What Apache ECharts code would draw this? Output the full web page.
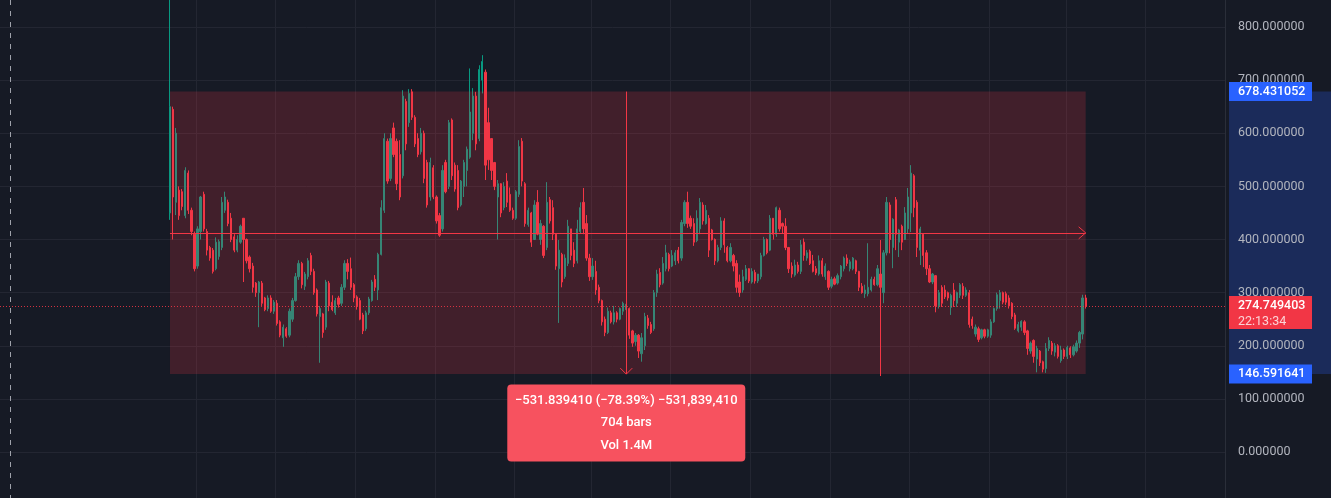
<!DOCTYPE html>
<html>
<head>
<meta charset="utf-8">
<script src="https://cdn.jsdelivr.net/npm/echarts@6/dist/echarts.min.js"></script>
<style>
html,body{margin:0;padding:0;background:#161a25;overflow:hidden;}
#c{width:1331px;height:498px;}
</style>
</head>
<body>
<div id="c"></div>
<script>
// ---- data (price, one bar per slot) ----
const opens = [
450,645,470,493,490,445,525,455,410,350,
415,485,415,385,380,345,368,385,455,470,
440,405,380,395,440,400,367,350,318,300,
318,290,270,290,265,280,245,215,232,220,
250,285,330,355,312,330,370,340,305,255,
260,235,318,282,262,290,280,310,355,345,
315,292,285,258,232,262,285,325,305,372,
455,585,515,610,585,560,520,660,620,678,
630,590,565,600,545,480,535,480,445,420,
545,500,625,540,530,465,500,530,555,600,
670,590,700,715,620,590,545,480,505,460,
510,485,455,440,485,585,505,428,450,400,
470,400,425,385,475,460,410,345,372,330,
355,420,380,360,415,470,430,365,330,340,
310,285,250,225,262,245,262,250,265,268,
270,228,208,220,185,200,252,240,232,300,
338,318,345,372,350,360,380,365,430,470,
440,430,398,420,465,430,440,418,400,360,
385,435,385,360,370,355,320,305,325,345,
320,338,322,330,370,400,380,440,410,455,
430,425,385,350,333,352,340,395,365,378,
360,345,335,360,330,340,312,326,318,330,
345,365,345,345,360,340,312,298,298,305,
325,315,335,300,375,465,385,475,395,425,
400,420,450,520,470,380,410,375,345,320,
332,275,310,305,300,272,305,280,295,312,
295,300,250,222,232,215,230,218,220,245,
270,285,300,298,290,280,258,228,235,245,
228,190,210,175,190,170,157,195,205,188,
200,172,192,180,196,183,190,205,222,290
];
const closes = [
650,480,600,445,462,530,455,415,345,420,
480,420,380,365,340,395,396,470,480,430,
400,380,400,425,400,360,345,310,300,320,
280,268,290,265,282,242,220,235,218,265,
285,330,355,315,335,360,340,300,260,270,
225,320,275,268,285,278,310,355,340,310,
290,275,250,228,262,288,320,310,372,460,
590,510,590,560,505,480,670,580,675,630,
580,560,600,515,465,545,480,435,408,530,
490,620,520,495,460,510,545,570,640,670,
580,720,735,540,550,530,500,505,450,500,
470,455,440,490,575,510,430,455,395,465,
410,430,370,470,435,410,350,380,320,365,
425,370,355,420,460,420,365,330,350,305,
285,245,225,265,245,262,250,270,280,278,
220,205,220,190,215,255,238,225,300,335,
315,355,375,345,370,375,360,432,470,430,
425,395,440,470,435,455,380,400,360,385,
435,390,360,385,350,310,300,330,345,322,
340,322,335,370,400,375,440,410,460,420,
425,385,345,335,352,340,390,370,375,355,
340,337,360,335,350,310,325,316,332,350,
365,355,358,365,340,310,300,305,310,325,
315,345,310,375,470,400,438,410,418,395,
450,480,525,460,385,420,370,345,320,335,
275,300,280,292,290,295,285,300,315,295,
305,240,238,235,212,230,218,230,245,270,
296,300,282,282,275,255,233,240,246,225,
195,205,180,195,168,156,195,210,190,200,
180,192,180,197,183,198,205,225,290,274.749403
];
const highs = [
900,650,610,500,495,536,530,460,415,425,
482,490,420,388,384,404,400,480,490,475,
450,410,408,428,440,402,370,356,320,322,
322,292,295,295,286,286,248,240,235,270,
290,337,361,358,339,365,375,345,308,275,
262,324,322,295,290,294,316,361,363,366,
318,295,290,262,266,292,324,333,375,474,
600,590,600,620,590,587,681,665,683,683,
634,600,610,605,550,554,540,483,450,540,
550,625,628,545,540,512,550,575,722,685,
678,728,747,720,648,591,546,512,506,508,
525,498,460,493,587,591,508,460,452,474,
493,437,427,508,480,474,412,399,375,372,
437,420,395,437,470,497,446,373,365,360,
315,287,255,272,266,275,265,272,283,281,
272,230,224,222,224,262,258,245,305,343,
346,367,390,375,380,380,386,437,474,490,
445,440,455,478,470,465,446,420,402,390,
442,440,388,393,373,361,334,343,352,346,
346,343,335,375,405,402,446,440,462,460,
432,440,386,357,362,358,399,402,380,381,
371,350,370,365,355,342,330,330,336,352,
368,372,362,367,362,341,318,315,393,330,
330,352,399,380,480,470,440,480,420,428,
461,497,540,523,474,424,412,380,352,337,
333,305,314,314,302,298,318,302,318,318,
310,305,255,240,236,232,232,232,250,272,
300,305,302,302,295,282,262,245,248,248,
230,208,212,200,192,172,205,216,209,205,
203,200,195,200,199,202,210,228,296,296
];
const lows = [
437,400,446,437,455,440,448,408,340,345,
400,415,370,360,336,342,362,380,450,425,
395,376,376,392,320,355,338,300,292,235,
275,265,265,262,260,238,216,198,215,216,
245,283,324,308,305,325,333,296,255,168,
215,230,265,265,258,272,275,305,325,305,
282,268,248,222,228,258,283,303,286,370,
450,505,510,555,493,474,515,568,612,625,
574,555,560,506,460,473,476,430,405,415,
487,495,512,490,455,462,480,500,552,587,
568,585,675,512,531,512,493,400,442,455,
461,452,437,437,480,500,424,424,386,399,
408,390,365,380,430,399,343,243,310,326,
350,361,348,355,412,410,360,322,324,296,
280,238,218,222,242,240,244,248,258,254,
213,198,200,177,170,192,232,222,228,292,
310,315,340,340,348,352,355,360,425,422,
420,388,395,410,428,428,367,398,352,357,
380,375,357,357,340,300,292,300,322,318,
317,317,318,325,368,372,378,400,405,415,
412,380,337,328,330,336,335,360,360,352,
338,333,332,330,324,305,308,314,315,325,
340,350,340,342,335,303,298,290,293,302,
313,312,143,280,370,374,346,380,367,380,
399,412,414,442,367,352,348,333,318,316,
263,270,273,288,285,258,273,273,290,288,
292,234,232,217,207,212,214,215,215,243,
266,270,278,277,270,250,230,225,228,220,
183,185,168,150,162,150,149,190,183,180,
176,168,175,175,177,180,187,196,212,270
];

// price axis ticks
const priceTicks = [0, 100, 200, 300, 400, 500, 600, 700, 800];
// measurement tool values
const measureTop = 678.431052;
const measureBottom = 146.591641;
const lastPrice = 274.749403;
const countdownText = '22:13:34';
const measureLines = ['−531.839410 (−78.39%) −531,839,410', '704 bars', 'Vol 1.4M'];
const measureBarIndex = 149;          // bar where the vertical measure line sits
// time slots
const totalSlots = 400;
const firstSlot = 55;
const timeGridSlots = [64, 90, 116, 142, 168, 193, 219, 245, 271, 297, 323, 348, 374];

// ---- build ----
const nBars = closes.length;
const candles = closes.map((c, i) => [firstSlot + i, opens[i], c, lows[i], highs[i]]);
const slots = Array.from({length: totalSlots}, (_, i) => String(i));
const lastSlot = firstSlot + nBars - 1;
const measureSlot = firstSlot + measureBarIndex;
const midPrice = (measureTop + measureBottom) / 2;

const UP = '#089981', DOWN = '#f23645', MEAS = '#f23645';
const FONT = 'Roboto, "Noto Sans", sans-serif';

const chart = echarts.init(document.getElementById('c'), null, {renderer: 'canvas'});
const option = {
  backgroundColor: '#161a25',
  animation: false,
  grid: {left: 0, right: 106, top: -26.125, bottom: -7.125, containLabel: false, outerBoundsMode: 'none'},
  xAxis: {
    type: 'category',
    data: slots,
    boundaryGap: true,
    axisLine: {show: false},
    axisTick: {show: false},
    axisLabel: {show: false},
    splitLine: {
      show: true,
      interval: (idx) => timeGridSlots.indexOf(idx) >= 0,
      lineStyle: {color: '#232632', width: 1}
    }
  },
  yAxis: {
    type: 'value',
    position: 'right',
    min: -100,
    max: 900,
    interval: 100,
    scale: false,
    axisLine: {show: true, lineStyle: {color: '#2a2e39'}},
    axisTick: {show: false},
    axisLabel: {
      margin: 13,
      color: '#b2b5be',
      fontSize: 12.5,
      fontFamily: FONT,
      formatter: (v) => (priceTicks.indexOf(v) >= 0 ? v.toFixed(6) : '')
    },
    splitLine: {show: true, lineStyle: {color: '#232632', width: 1}}
  },
  series: [{
    type: 'candlestick',
    z: 0.5,
    dimensions: ['slot', 'open', 'close', 'lowest', 'highest'],
    encode: {x: 'slot', y: ['open', 'close', 'lowest', 'highest']},
    data: candles,
    barWidth: 1.8,
    itemStyle: {color: UP, color0: DOWN, borderColor: UP, borderColor0: DOWN, borderWidth: 1},
    emphasis: {disabled: true},
    markArea: {
      silent: true,
      z: 3,
      itemStyle: {color: 'rgba(242,54,69,0.2)'},
      label: {show: false},
      data: [[{coord: [firstSlot, measureTop]}, {coord: [lastSlot, measureBottom]}]]
    },
    markLine: {
      silent: true,
      symbol: ['none', 'none'],
      label: {show: false},
      emphasis: {disabled: true},
      data: [
        {yAxis: lastPrice, lineStyle: {color: DOWN, width: 1, type: [1, 2], opacity: 0.85}},
        [{coord: [firstSlot, midPrice], lineStyle: {color: MEAS, width: 1, type: 'solid'}},
         {coord: [lastSlot, midPrice]}],
        [{coord: [measureSlot, measureTop], lineStyle: {color: MEAS, width: 1, type: 'solid'}},
         {coord: [measureSlot, measureBottom]}]
      ]
    }
  }]
};
chart.setOption(option);

// ---- overlays positioned through the chart's own scales ----
const P = (slot, v) => chart.convertToPixel({gridIndex: 0}, [slot, v]);
const yTop = P(firstSlot, measureTop)[1];
const yBot = P(firstSlot, measureBottom)[1];
const yMid = P(firstSlot, midPrice)[1];
const yLast = P(firstSlot, lastPrice)[1];
const xRight = P(lastSlot, midPrice)[0];
const xMeas = P(measureSlot, midPrice)[0];

const axX = 1229, axW = 83;
const g = [];
// dashed vertical marker on the left
g.push({type: 'line', z: 50, silent: true,
  shape: {x1: 10.5, y1: 0, x2: 10.5, y2: 498},
  style: {stroke: '#9fa2ab', lineWidth: 1, lineDash: [5, 6]}});
// highlighted range on price axis
g.push({type: 'rect', z: -1, silent: true,
  shape: {x: axX, y: yTop, width: 1331 - axX, height: yBot - yTop},
  style: {fill: '#1b2b5a'}});
// arrow heads
g.push({type: 'polyline', z: 60, silent: true,
  shape: {points: [[xRight - 7, yMid - 6], [xRight, yMid], [xRight - 7, yMid + 6]]},
  style: {stroke: MEAS, lineWidth: 1, fill: null}});
g.push({type: 'polyline', z: 60, silent: true,
  shape: {points: [[xMeas - 6, yBot - 6], [xMeas, yBot], [xMeas + 6, yBot - 6]]},
  style: {stroke: MEAS, lineWidth: 1, fill: null}});
// price labels on the axis
function axisBox(v, fill) {
  const y = P(firstSlot, v)[1];
  g.push({type: 'rect', z: 100, silent: true,
    shape: {x: axX, y: y - 9.5, width: axW, height: 19}, style: {fill: fill}});
  g.push({type: 'text', z: 101, silent: true, x: 1238, y: y,
    style: {text: v.toFixed(6), fill: '#ffffff', font: '500 12.5px ' + FONT, align: 'left', verticalAlign: 'middle'}});
}
axisBox(measureTop, '#2962ff');
axisBox(measureBottom, '#2962ff');
g.push({type: 'rect', z: 100, silent: true,
  shape: {x: axX, y: yLast - 10, width: axW, height: 33}, style: {fill: '#f23645'}});
g.push({type: 'text', z: 101, silent: true, x: 1238, y: yLast,
  style: {text: lastPrice.toFixed(6), fill: '#ffffff', font: '500 12.5px ' + FONT, align: 'left', verticalAlign: 'middle'}});
g.push({type: 'text', z: 101, silent: true, x: 1238, y: yLast + 16,
  style: {text: countdownText, fill: 'rgba(255,255,255,0.78)', font: '12.5px ' + FONT, align: 'left', verticalAlign: 'middle'}});
// measurement info box
const boxW = 238, boxH = 77, boxTop = yBot + 10.5;
g.push({type: 'rect', z: 100, silent: true,
  shape: {x: xMeas - boxW / 2, y: boxTop, width: boxW, height: boxH, r: 4},
  style: {fill: '#f7525f'}});
measureLines.forEach((t, i) => {
  g.push({type: 'text', z: 101, silent: true, x: xMeas, y: boxTop + 16 + i * 22.5,
    style: {text: t, fill: '#ffffff', font: '500 13px ' + FONT, align: 'center', verticalAlign: 'middle'}});
});
chart.setOption({graphic: g});
</script>
</body>
</html>
